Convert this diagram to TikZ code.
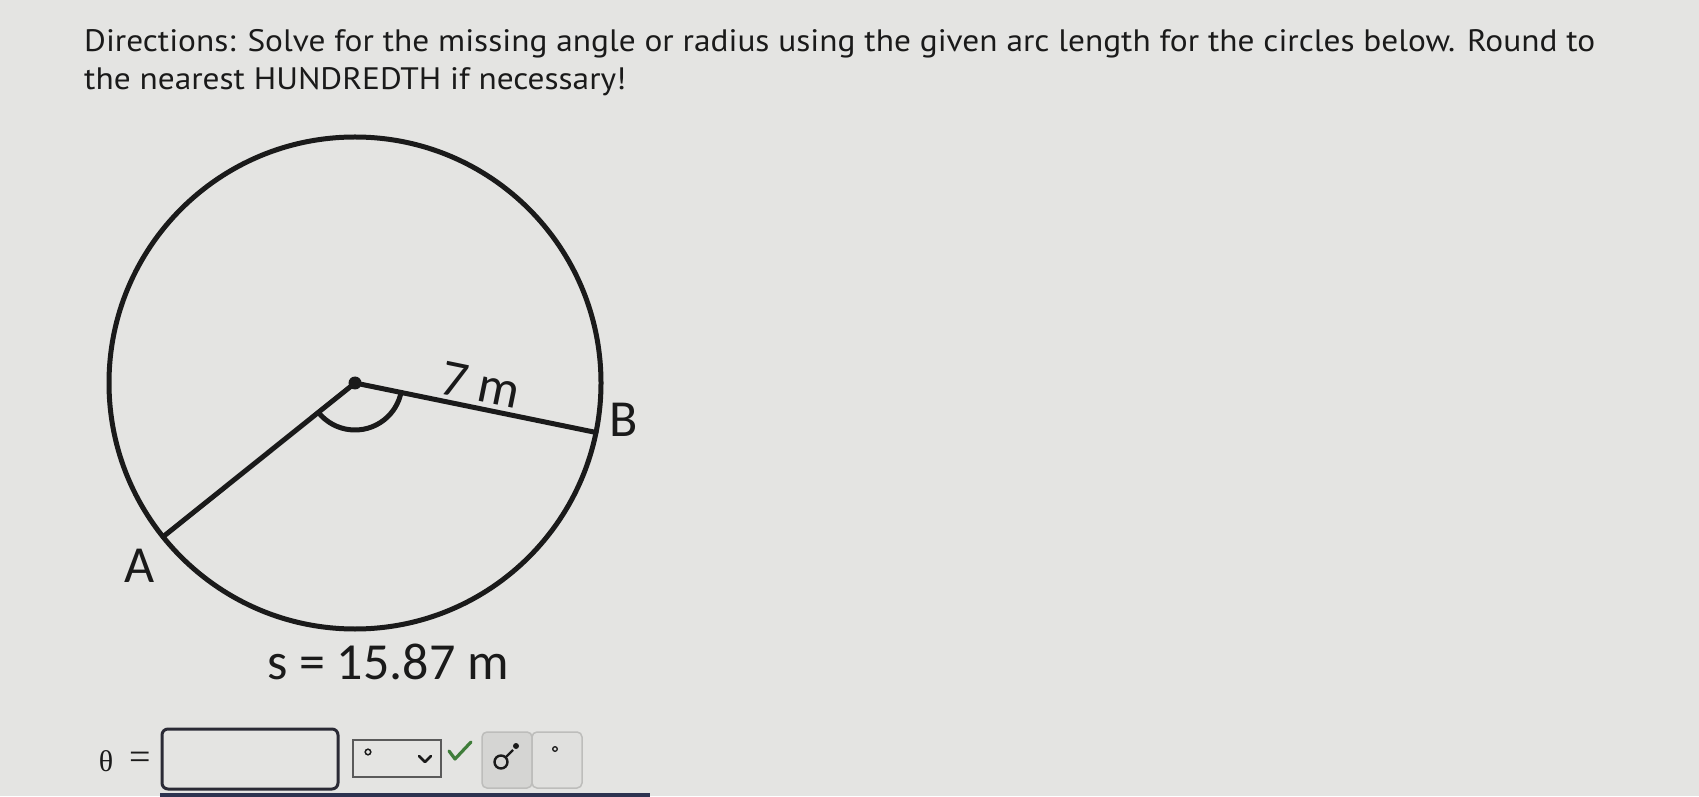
\documentclass[tikz,border=0pt]{standalone}
\usepackage{fontspec}
\setmainfont{PT Sans}
\newfontfamily\figfont{Carlito}
\newfontfamily\greekfont{Liberation Serif}
\usetikzlibrary{calc}
\definecolor{bg}{HTML}{E4E4E2}
\definecolor{ink}{HTML}{1A1A1A}
\definecolor{boxink}{HTML}{2A2A35}
\definecolor{ddink}{HTML}{5A5A5A}
\definecolor{okgreen}{HTML}{3F7D3A}
\definecolor{btnA}{HTML}{D5D5D3}
\definecolor{btnB}{HTML}{E0E0DE}
\definecolor{btnline}{HTML}{BDBDBB}
\definecolor{navy}{HTML}{2D3350}
\tikzset{
  geom/.style={draw=ink, line width=5pt},
  lbl/.style={font=\figfont\fontsize{52}{56}\selectfont, text=ink, inner sep=0pt},
  dirtext/.style={font=\fontsize{31}{36}\selectfont, text=ink, inner sep=0pt, anchor=base west},
  btn/.style={draw=btnline, line width=1.5pt, rounded corners=5pt}
}
\begin{document}
\begin{tikzpicture}[x=1pt,y=1pt]
\fill[bg] (0,0) rectangle (1699,796);
\useasboundingbox (0,0) rectangle (1699,796);
% directions
\node[dirtext] (d1) at (84,744) {\scalebox{1.076}[1]{Directions: Solve for the missing angle or radius using the given arc length for the circles below. Round to}};
\node[dirtext] (d2) at (84,706) {\scalebox{1.076}[1]{the nearest HUNDREDTH if necessary!}};
% circle
\coordinate (c) at (355,413);
\draw[geom] (c) circle (246);
\coordinate (B) at ($(c)+(-11.6:246)$);
\coordinate (A) at ($(c)+(218.7:246)$);
\draw[geom, line cap=round] (A) -- (c) -- (B);
\draw[geom] ($(c)+(218.7:47)$) arc[start angle=218.7, end angle=348.4, radius=47];
\fill[ink] (c) circle (6.5);
\node[lbl, rotate=-11.6] (r) at (481,411) {7 m};
\node[lbl] (lb) at (624,376) {B};
\node[lbl] (la) at (140,230) {A};
\node[lbl, anchor=base] (s) at (388,117) {s = 15.87 m};
% answer row
\node[font=\greekfont\fontsize{30}{32}\selectfont, text=ink, inner sep=0pt] (th) at (106,35) {θ};
\node[font=\greekfont\fontsize{38}{40}\selectfont, text=ink, inner sep=0pt, anchor=center] (eq) at (140,35) {=};
\draw[boxink, line width=3pt, rounded corners=6pt] (162,7) rectangle (338,67);
\node[draw=ddink, line width=1.5pt, minimum width=88pt, minimum height=37pt, inner sep=0pt] (dd) at (397,37.5) {};
\draw[ink, line width=1.5pt] (368,44) circle (2.8);
\draw[ink, line width=2.8pt, line cap=round, line join=round] (419,40) -- (425,34) -- (431,40);
\draw[okgreen, line width=3.2pt, line cap=round, line join=round] (449,45) -- (455,37) -- (471,54);
\draw[btn, fill=btnA] (482,8) rectangle (532,64);
\draw[btn, fill=btnB] (532,8) rectangle (582,64);
\draw[ink, line width=2.4pt] (501,34) circle (6.5);
\draw[ink, line width=2.4pt] (505.5,38.5) -- (513,46);
\fill[ink] (516,50) circle (3);
\draw[ink, line width=1.3pt] (555,47) circle (2.3);
\draw[navy, line width=4pt] (160,1.5) -- (650,1.5);
\end{tikzpicture}
\end{document}
